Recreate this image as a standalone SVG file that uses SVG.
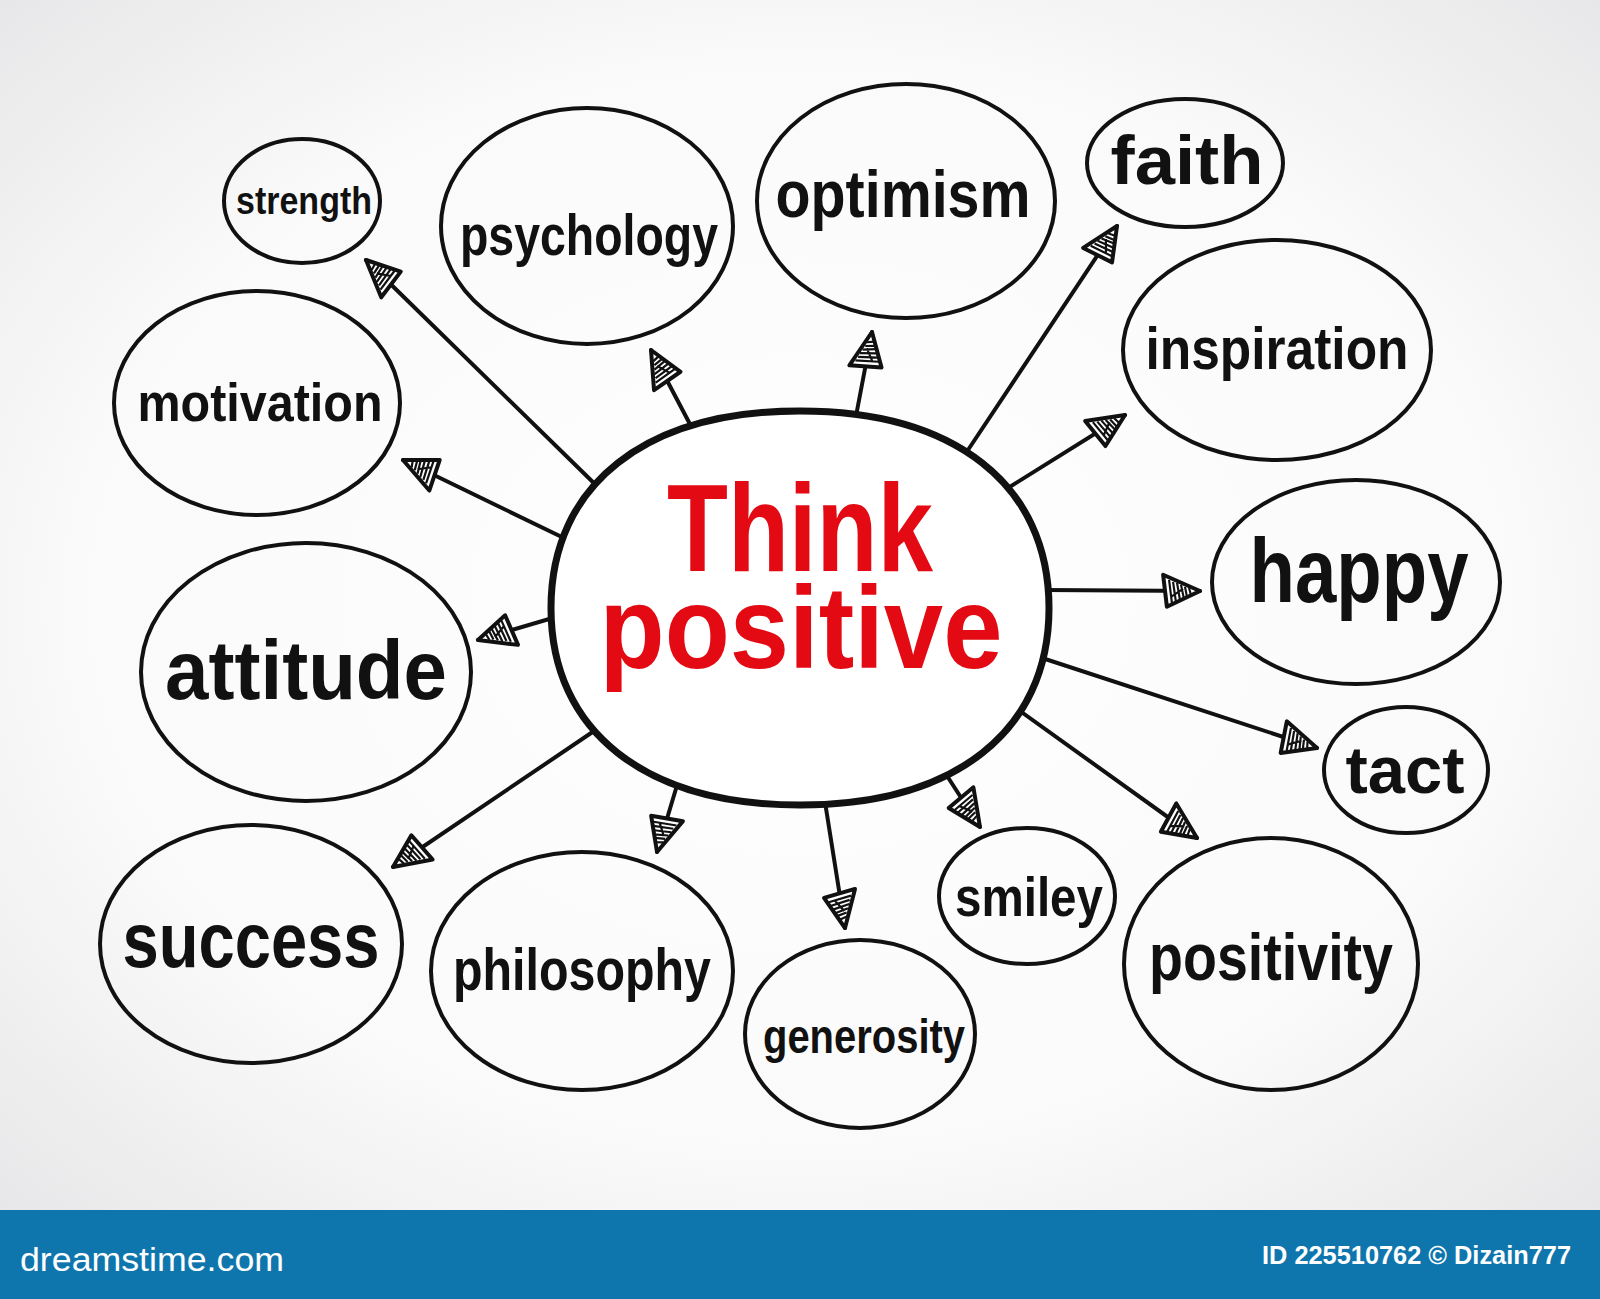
<svg xmlns="http://www.w3.org/2000/svg" width="1600" height="1299" viewBox="0 0 1600 1299">
<style>
.node{fill:none;stroke:#111;stroke-width:4}
.lbl{font-family:"Liberation Sans",Arial,sans-serif;font-weight:bold;fill:#111;text-anchor:middle}
.con{stroke:#111;stroke-width:4;fill:none;stroke-linecap:round;marker-end:url(#ah)}
.red{font-family:"Liberation Sans",Arial,sans-serif;font-weight:bold;fill:#e30a13;text-anchor:middle}
.foot{font-family:"Liberation Sans",Arial,sans-serif;fill:#fff}
</style>
<defs>
<radialGradient id="bg" cx="50%" cy="50%" r="75%">
<stop offset="0" stop-color="#ffffff"/>
<stop offset="0.6" stop-color="#fafafa"/>
<stop offset="1" stop-color="#e4e4e6"/>
</radialGradient>
<marker id="ah" viewBox="-42 -21 46 42" refX="0" refY="0" markerWidth="46" markerHeight="42" markerUnits="userSpaceOnUse" orient="auto">
<path d="M0,0 L-37,-16 L-33,16 Z" fill="#fff" stroke="#111" stroke-width="4" stroke-linejoin="round"/>
<path d="M-31,-11 L-28,12 M-27,-9 L-24,11 M-23,-8 L-20,9 M-19,-6 L-16,8 M-15,-4 L-13,6 M-11,-3 L-9,4 M-29,6 L-17,-2" stroke="#111" stroke-width="2.2" fill="none"/>
</marker>
</defs>
<rect x="0" y="0" width="1600" height="1210" fill="url(#bg)"/>

<g id="connectors">
<line class="con" x1="602" y1="491" x2="366" y2="260"/>
<line class="con" x1="568" y1="540" x2="403" y2="460"/>
<line class="con" x1="692" y1="428" x2="651" y2="350"/>
<line class="con" x1="856" y1="416" x2="872" y2="332"/>
<line class="con" x1="966" y1="453" x2="1117" y2="226"/>
<line class="con" x1="1008" y1="488" x2="1125" y2="415"/>
<line class="con" x1="1045" y1="590" x2="1200" y2="591"/>
<line class="con" x1="1036" y1="656" x2="1317" y2="748"/>
<line class="con" x1="1013" y1="706" x2="1197" y2="838"/>
<line class="con" x1="940" y1="765" x2="980" y2="827"/>
<line class="con" x1="825" y1="802" x2="845" y2="928"/>
<line class="con" x1="678" y1="782" x2="657" y2="852"/>
<line class="con" x1="597" y1="729" x2="393" y2="867"/>
<line class="con" x1="556" y1="617" x2="478" y2="640"/>
</g>

<g id="center">
<path d="M1049,608 C1049,732 954,805 800,805 C646,805 551,732 551,608 C551,484 646,411 800,411 C954,411 1049,484 1049,608 Z" fill="#fff" stroke="#111" stroke-width="7"/>
<text class="red"><tspan x="800" y="571" font-size="124" textLength="266" lengthAdjust="spacingAndGlyphs">Think</tspan><tspan x="801" y="668" font-size="116" textLength="403" lengthAdjust="spacingAndGlyphs">positive</tspan></text>
</g>

<g id="strength">
<ellipse class="node" cx="302" cy="201" rx="78" ry="62"/>
<text class="lbl" x="304" y="214" font-size="38" textLength="136" lengthAdjust="spacingAndGlyphs">strength</text>
</g>
<g id="psychology">
<ellipse class="node" cx="587" cy="226" rx="146" ry="118"/>
<text class="lbl" x="589" y="255" font-size="58" textLength="258" lengthAdjust="spacingAndGlyphs">psychology</text>
</g>
<g id="optimism">
<ellipse class="node" cx="906" cy="201" rx="149" ry="117"/>
<text class="lbl" x="903" y="217" font-size="66" textLength="255" lengthAdjust="spacingAndGlyphs">optimism</text>
</g>
<g id="faith">
<ellipse class="node" cx="1185" cy="163" rx="98" ry="64"/>
<text class="lbl" x="1187" y="184" font-size="68" textLength="153" lengthAdjust="spacingAndGlyphs">faith</text>
</g>
<g id="inspiration">
<ellipse class="node" cx="1277" cy="350" rx="154" ry="110"/>
<text class="lbl" x="1277" y="369" font-size="60" textLength="263" lengthAdjust="spacingAndGlyphs">inspiration</text>
</g>
<g id="motivation">
<ellipse class="node" cx="257" cy="403" rx="143" ry="112"/>
<text class="lbl" x="260" y="421" font-size="54" textLength="245" lengthAdjust="spacingAndGlyphs">motivation</text>
</g>
<g id="attitude">
<ellipse class="node" cx="306" cy="672" rx="165" ry="129"/>
<text class="lbl" x="306" y="699" font-size="84" textLength="282" lengthAdjust="spacingAndGlyphs">attitude</text>
</g>
<g id="happy">
<ellipse class="node" cx="1356" cy="582" rx="144" ry="102"/>
<text class="lbl" x="1359" y="602" font-size="90" textLength="219" lengthAdjust="spacingAndGlyphs">happy</text>
</g>
<g id="tact">
<ellipse class="node" cx="1406" cy="770" rx="82" ry="63"/>
<text class="lbl" x="1405" y="793" font-size="66" textLength="119" lengthAdjust="spacingAndGlyphs">tact</text>
</g>
<g id="success">
<ellipse class="node" cx="251" cy="944" rx="151" ry="119"/>
<text class="lbl" x="251" y="967" font-size="78" textLength="257" lengthAdjust="spacingAndGlyphs">success</text>
</g>
<g id="philosophy">
<ellipse class="node" cx="582" cy="971" rx="151" ry="119"/>
<text class="lbl" x="582" y="990" font-size="60" textLength="258" lengthAdjust="spacingAndGlyphs">philosophy</text>
</g>
<g id="generosity">
<ellipse class="node" cx="860" cy="1034" rx="115" ry="94"/>
<text class="lbl" x="864" y="1053" font-size="48" textLength="202" lengthAdjust="spacingAndGlyphs">generosity</text>
</g>
<g id="smiley">
<ellipse class="node" cx="1027" cy="896" rx="88" ry="68"/>
<text class="lbl" x="1029" y="916" font-size="56" textLength="148" lengthAdjust="spacingAndGlyphs">smiley</text>
</g>
<g id="positivity">
<ellipse class="node" cx="1271" cy="964" rx="147" ry="126"/>
<text class="lbl" x="1271" y="980" font-size="66" textLength="244" lengthAdjust="spacingAndGlyphs">positivity</text>
</g>

<g id="footer">
<rect x="0" y="1210" width="1600" height="89" fill="#0f76ad"/>
<text class="foot" x="20" y="1271" font-size="33" textLength="264" lengthAdjust="spacingAndGlyphs">dreamstime.com</text>
<text class="foot" x="1262" y="1264" font-size="25" font-weight="bold" textLength="309" lengthAdjust="spacingAndGlyphs">ID 225510762 © Dizain777</text>
</g>
</svg>
